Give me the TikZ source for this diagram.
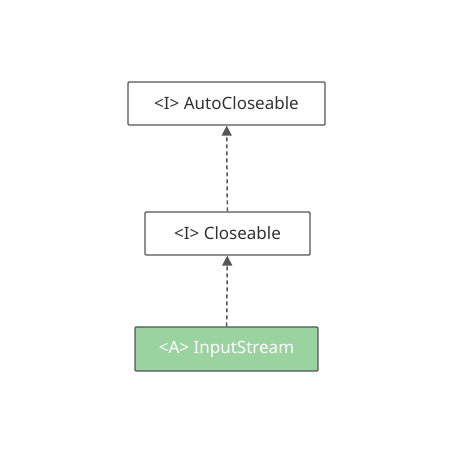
\documentclass[tikz,border=0pt]{standalone}
\usepackage{fontspec}
\setmainfont{Noto Sans}
\usetikzlibrary{arrows.meta}
\definecolor{boxline}{HTML}{555555}
\definecolor{boxgreen}{HTML}{9BD3A0}

\begin{document}
\begin{tikzpicture}[x=1pt,y=-1pt]
            \useasboundingbox (0,0) rectangle (474,462);
            \begin{scope}[every node/.style={rectangle,draw=boxline,line width=1.4pt,rounded corners=1pt,fill=white,font=\fontsize{17}{20}\selectfont,text=black!80}]
                \node[minimum width=197pt,minimum height=43pt] (auto) at (226.5,103.5) {<I> AutoCloseable};
                \node[minimum width=165pt,minimum height=43pt] (close) at (227.5,233.5) {<I> Closeable};
                \node[minimum width=183pt,minimum height=44pt,fill=boxgreen,text=white] (input) at (226.5,349) {<A> InputStream};
            \end{scope}
            \draw[boxline,line width=1.5pt,dashed,dash pattern=on 4pt off 3pt,-{Triangle[width=10pt,length=10pt]}] (close) -- (auto);
            \draw[boxline,line width=1.5pt,dashed,dash pattern=on 4pt off 3pt,-{Triangle[width=10pt,length=10pt]}] (input) -- (close);
        \end{tikzpicture}
\end{document}
